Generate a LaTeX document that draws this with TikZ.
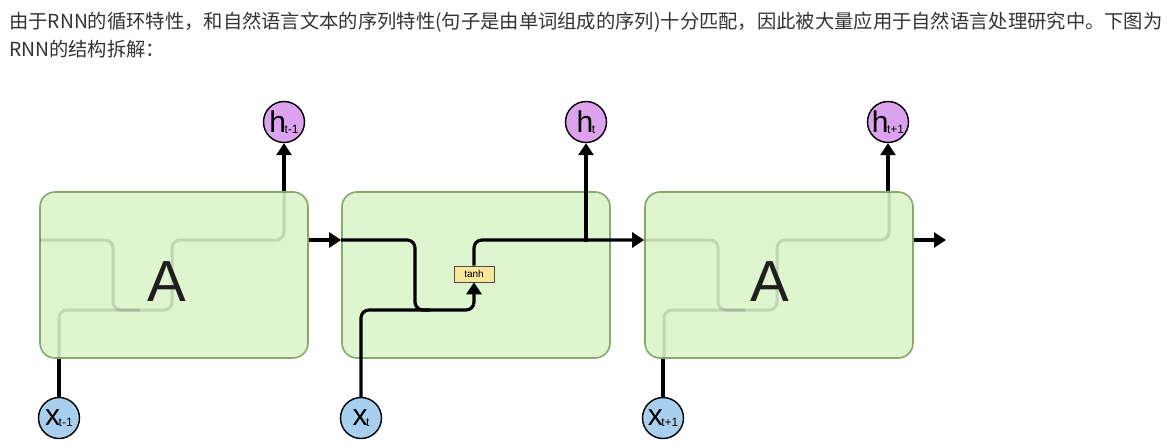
\documentclass[tikz,border=0pt]{standalone}
\usepackage{fontspec}
\setmainfont{Liberation Sans}
\newfontfamily\cjk{Noto Sans CJK SC}
\usetikzlibrary{arrows.meta}
\definecolor{boxfill}{HTML}{DFF5CF}
\definecolor{boxdraw}{HTML}{86A86A}
\definecolor{hfill}{HTML}{DDA2EE}
\definecolor{xfill}{HTML}{A8CFEE}
\definecolor{tanhfill}{HTML}{F8E79A}
\definecolor{txt}{HTML}{333333}
\tikzset{
 cell/.style={draw=boxdraw,line width=1.6pt,fill=boxfill,rounded corners=15pt,minimum width=268pt,minimum height=166pt,inner sep=0pt},
 hnode/.style={circle,draw=black,line width=1.4pt,fill=hfill,minimum size=41pt,inner sep=0pt},
 xnode/.style={circle,draw=black,line width=1.4pt,fill=xfill,minimum size=41pt,inner sep=0pt},
 wire/.style={line width=3.2pt,rounded corners=8pt},
 fwire/.style={line width=3pt,rounded corners=8pt,draw=black,opacity=0.13},
 arr/.style={wire,-{Triangle[length=12pt,width=15pt]}},
 tanhbox/.style={draw=black!70,line width=0.7pt,fill=tanhfill,minimum width=40pt,minimum height=16pt,inner sep=0pt,font=\fontsize{10}{10}\selectfont},
}
\newcommand{\lab}[2]{\fontsize{30}{30}\selectfont #1\kern-1.5pt\raisebox{-1pt}{\fontsize{12}{12}\selectfont #2}}
\begin{document}
\begin{tikzpicture}[x=1pt,y=-1pt]
\useasboundingbox (0,0) rectangle (1175,447);
\node[anchor=west,text=txt,font=\cjk\fontsize{19.3}{19.3}\selectfont,inner sep=0pt] (l1) at (9,22) {由于RNN的循环特性，和自然语言文本的序列特性(句子是由单词组成的序列)十分匹配，因此被大量应用于自然语言处理研究中。下图为};
\node[anchor=west,text=txt,font=\cjk\fontsize{19.3}{19.3}\selectfont,inner sep=0pt] (l2) at (9,49) {RNN的结构拆解：};
% cells
\node[cell] (c1) at (174,275) {};
\node[cell] (c2) at (476,275) {};
\node[cell] (c3) at (779,275) {};
% faded inner wiring of A cells
\foreach \o in {0,605}{
 \draw[fwire] (40+\o,240) -- (113+\o,240) -- (113+\o,310) -- (172+\o,310) -- (172+\o,240) -- (284+\o,240) -- (284+\o,192);
 \draw[fwire] (59+\o,358) -- (59+\o,310) -- (140+\o,310);
}
\node[font=\fontsize{58}{58}\selectfont,text=black!88] (A1) at (167,282) {A};
\node[font=\fontsize{58}{58}\selectfont,text=black!88] (A3) at (770,282) {A};
% circles
\node[hnode] (h1) at (284,122) {\lab{h}{t-1}};
\node[hnode] (h2) at (586,122) {\lab{h}{t}};
\node[hnode] (h3) at (888,122) {\lab{h}{t+1}};
\node[xnode] (x1) at (59,418) {\lab{x}{t-1}};
\node[xnode] (x2) at (361,418) {\lab{x}{t}};
\node[xnode] (x3) at (663,418) {\lab{x}{t+1}};
\node[tanhbox] (t) at (474,274) {tanh};
\coordinate (e1) at (c1.north -| h1) ;
\coordinate (e3) at (c3.north -| h3) ;
\coordinate (out) at (946,240);
% arrows outside
\draw[arr] (e1) -- (h1);
\draw[arr] (e3) -- (h3);
\draw[wire] (x1) -- (x1 |- c1.south);
\draw[wire] (x3) -- (x3 |- c3.south);
\draw[arr] (c1.east |- 0,240) -- (c2.west |- 0,240);
\draw[arr] (c3.east |- 0,240) -- (out);
% middle cell
\draw[wire] (c2.west |- 0,240) -- (415,240) -- (415,310) -- (430,310);
\draw[arr] (x2) -- (361,310) -- (474,310) -- (t.south);
\draw[arr] (t.north) -- (474,240) -- (c3.west |- 0,240);
\draw[arr] (586,242) -- (h2);
\end{tikzpicture}
\end{document}
